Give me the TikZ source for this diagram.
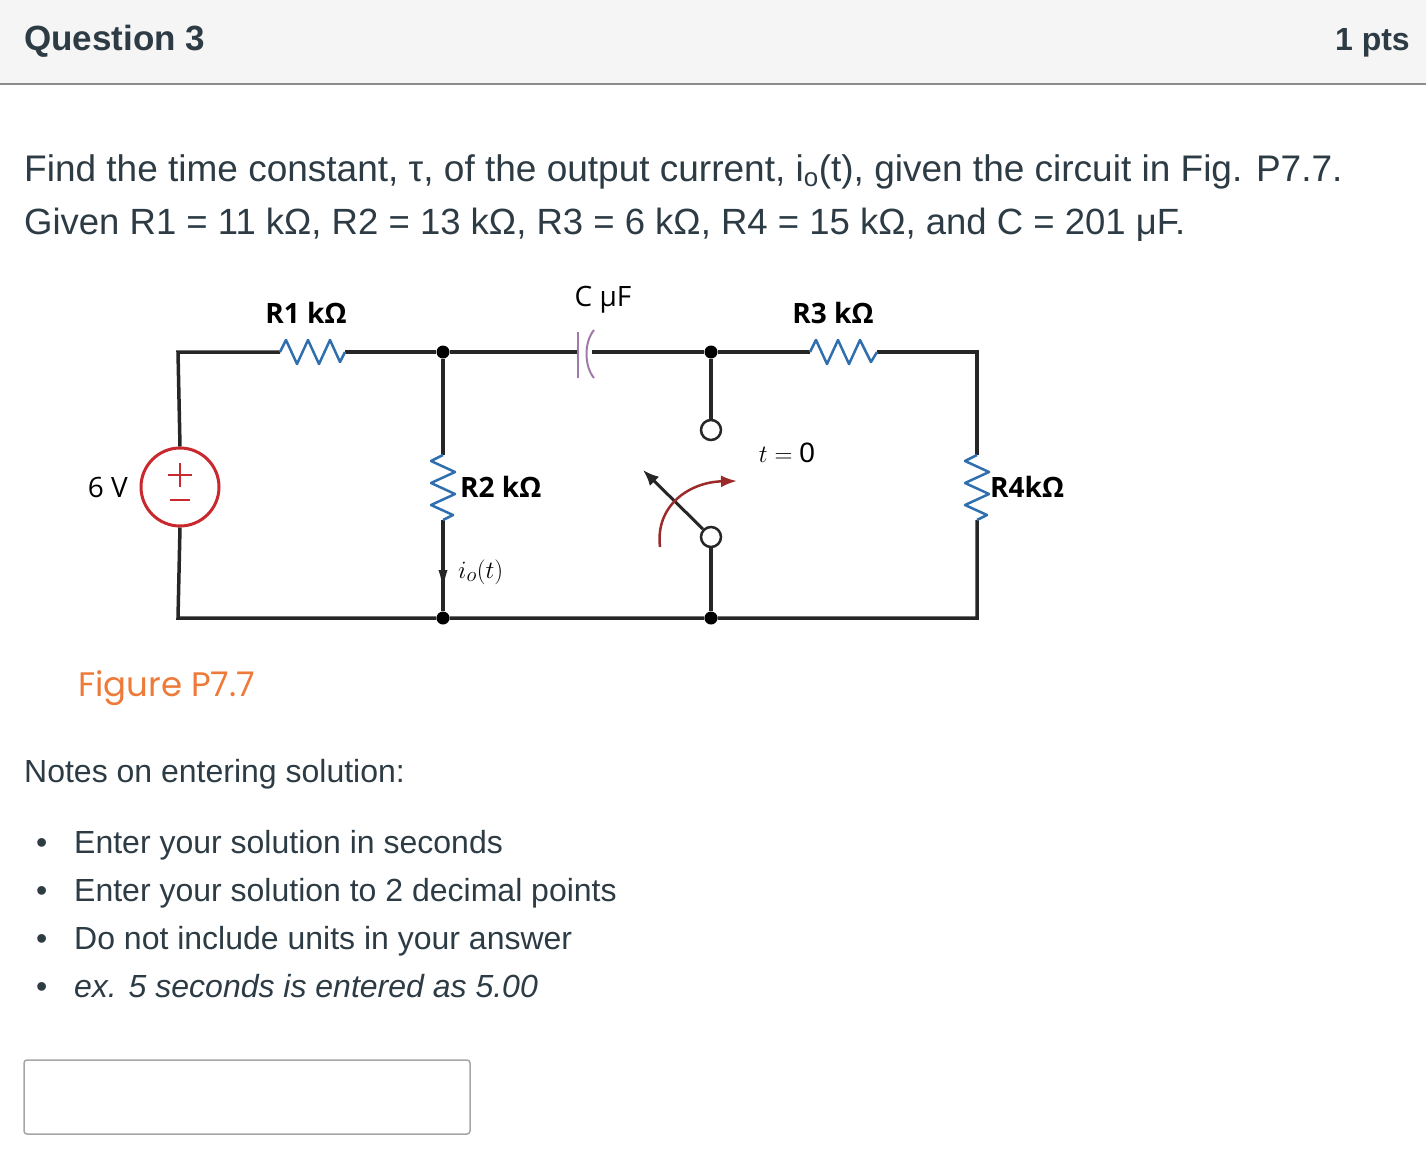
\documentclass[tikz,border=0pt]{standalone}
\usepackage{fontspec}
\setmainfont{Liberation Sans}
\newfontfamily\lab{Open Sans}
\newfontfamily\figf{Poppins}
\usetikzlibrary{arrows.meta}
\definecolor{resblue}{HTML}{2F6FB0}
\definecolor{srcred}{HTML}{C8282E}
\definecolor{capv}{HTML}{A07AA8}
\definecolor{figor}{HTML}{EE7A3A}
\definecolor{swred}{HTML}{9B2A2A}
\definecolor{txt}{HTML}{2D3B45}
\tikzset{wire/.style={line width=3.5pt,black!85},
 zig/.style={resblue,line width=2.5pt,line join=round},
 dot/.style={circle,fill=black,inner sep=0pt,minimum size=13pt},
 term/.style={circle,draw=black!85,line width=2.5pt,fill=white,inner sep=0pt,minimum size=20pt},
 clab/.style={font=\lab\fontsize{28}{30}\selectfont,inner sep=0pt},
 body/.style={font=\fontsize{34}{40}\selectfont,text=txt,inner sep=0pt,anchor=base west}}
\begin{document}
\begin{tikzpicture}[x=1pt,y=-1pt]
\useasboundingbox (0,0) rectangle (1426,1160);
\fill[black!4] (0,0) rectangle (1426,83);
\draw[black!45,line width=1.5pt] (0,84) -- (1426,84);
\node[body,font=\bfseries\fontsize{35}{40}\selectfont] (q) at (24,50) {Question 3};
\node[body,font=\bfseries\fontsize{32}{40}\selectfont,anchor=base east] (p) at (1410,50) {1 pts};
\node[body,font=\fontsize{37}{40}\selectfont] (l1) at (24,181) {Find the time constant, τ, of the output current, i\textsubscript{o}(t), given the circuit in Fig. P7.7.};
\node[body,font=\fontsize{36.5}{40}\selectfont] (l2) at (24,234) {Given R1 = 11 kΩ, R2 = 13 kΩ, R3 = 6 kΩ, R4 = 15 kΩ, and C = 201 μF.};
% circuit
\coordinate (TL) at (178,352); \coordinate (BL) at (178,618);
\coordinate (TR) at (977,352); \coordinate (BR) at (977,618);
\node[dot] (a) at (443,352) {}; \node[dot] (b) at (711,352) {};
\node[dot] (c) at (443,618) {}; \node[dot] (d) at (711,618) {};
\node[circle,draw=srcred,line width=3pt,minimum size=78pt,inner sep=0pt] (src) at (180,487) {};
\node[term] (t1) at (711,430) {};
\node[term] (t2) at (711,537) {};
\draw[wire] (src.north) -- (TL) -- (280,352);
\draw[wire] (345,352) -- (a) -- (578,352);
\draw[wire] (592,352) -- (b) -- (810,352);
\draw[wire] (877,352) -- (TR) -- (977,455);
\draw[wire] (977,520) -- (BR) -- (d) -- (c) -- (BL) -- (src.south);
\draw[wire] (a) -- (443,455); \draw[wire] (443,520) -- (c);
\draw[wire] (b) -- (t1); \draw[wire] (t2) -- (d);
\draw[zig] (280,352) -- (286,340) -- (297,364) -- (308,340) -- (319,364) -- (330,340) -- (340,362) -- (345,352);
\draw[zig] (810,352) -- (816,340) -- (827,364) -- (838,340) -- (849,364) -- (860,340) -- (871,362) -- (877,352);
\draw[zig] (443,455) -- (431,461) -- (455,472) -- (431,483) -- (455,494) -- (431,505) -- (453,515) -- (443,520);
\draw[zig] (977,455) -- (965,461) -- (989,472) -- (965,483) -- (989,494) -- (965,505) -- (987,515) -- (977,520);
\draw[capv,line width=2pt] (578,332) -- (578,378);
\draw[capv,line width=2pt] (594,330) .. controls (584,342) and (584,366) .. (594,378);
\draw[srcred,line width=2.5pt] (168,475) -- (192,475) (180,463) -- (180,487) (170,500) -- (190,500);
\draw[black!85,line width=3pt,-{Latex[length=16pt,width=13pt]}] (t2) -- (643,470);
\draw[swred,line width=2.5pt,-{Latex[length=16pt,width=12pt]}] (660,547) .. controls (655,505) and (690,482) .. (737,481);
\draw[black!85,line width=3pt,-{Latex[length=22pt,width=9pt]}] (443,558) -- (443,592);
\node[clab,anchor=east] (v) at (128,487) {6 V};
\node[clab,font=\lab\bfseries\fontsize{28}{30}\selectfont] (r1) at (306,313) {R1 kΩ};
\node[clab] (cc) at (603,300) {C μF};
\node[clab,font=\lab\bfseries\fontsize{28}{30}\selectfont] (r3) at (833,313) {R3 kΩ};
\node[clab,anchor=west,font=\lab\bfseries\fontsize{28}{30}\selectfont] (r2) at (460,487) {R2 kΩ};
\node[clab,anchor=west,font=\lab\bfseries\fontsize{28}{30}\selectfont] (r4) at (990,487) {R4kΩ};
\node[clab] (tt) at (787,453) {$t = \mathrm{0}$};
\node[clab,anchor=west,font=\fontsize{32}{30}\selectfont] (io) at (458,572) {$i_o(t)$};
\node[body,text=figor,font=\figf\fontsize{34}{40}\selectfont] (fig) at (78,696) {Figure P7.7};
\node[body,font=\fontsize{32}{40}\selectfont] (n) at (24,782) {Notes on entering solution:};
\foreach \y/\t in {853/Enter your solution in seconds,901/Enter your solution to 2 decimal points,949/Do not include units in your answer,997/\textit{ex. 5 seconds is entered as 5.00}}{
 \node[body,font=\fontsize{32}{40}\selectfont] at (36,\y) {•};
 \node[body,font=\fontsize{32}{40}\selectfont] at (74,\y) {\t};}
\draw[black!35,line width=1.5pt,rounded corners=3pt] (24,1060) rectangle (470,1134);
\end{tikzpicture}
\end{document}
